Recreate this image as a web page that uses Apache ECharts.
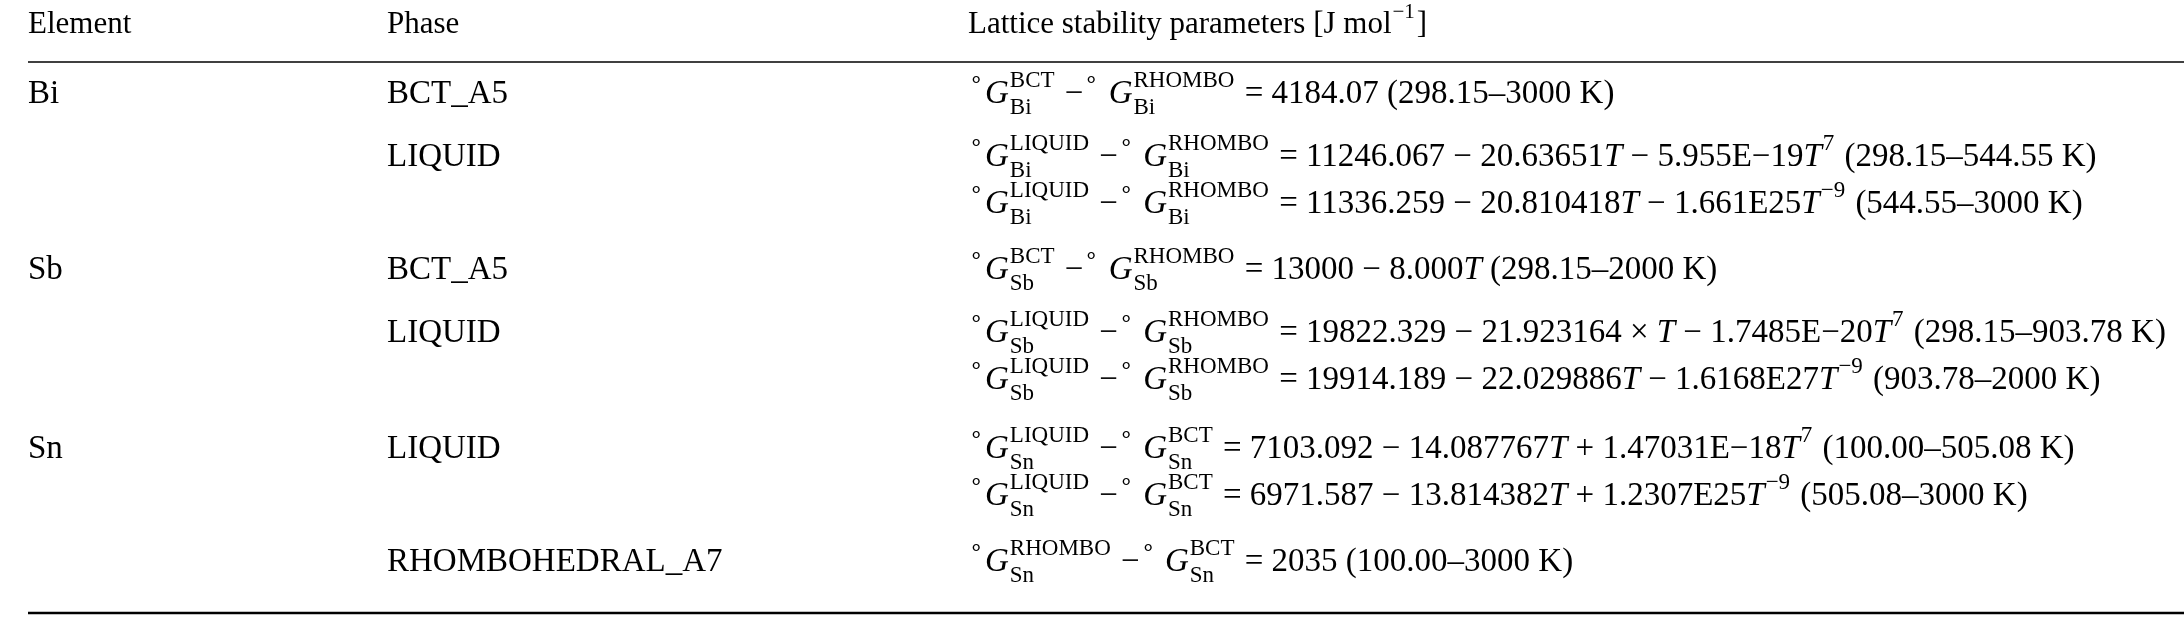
<!DOCTYPE html>
<html><head><meta charset="utf-8">
<script src="https://cdn.jsdelivr.net/npm/echarts@6/dist/echarts.min.js"></script>
<style>html,body{margin:0;padding:0;background:#fff}#container{width:2184px;height:620px}</style>
</head><body><div id="container"></div>
<script>
var dom = document.getElementById("container");
var myChart = echarts.init(dom);

var headers = ["Element", "Phase", "Lattice stability parameters [J mol^{−1}]"];
var elements = ["Bi", "", "", "Sb", "", "", "Sn", "", ""];
var phases = ["BCT_A5", "LIQUID", "", "BCT_A5", "LIQUID", "", "LIQUID", "", "RHOMBOHEDRAL_A7"];
// ^{..} superscript, _{..} subscript, *x* italic
var formulas = [
  "^{∘}*G*^{BCT}_{Bi} −^{∘} *G*^{RHOMBO}_{Bi} = 4184.07 (298.15–3000 K)",
  "^{∘}*G*^{LIQUID}_{Bi} −^{∘} *G*^{RHOMBO}_{Bi} = 11246.067 − 20.63651*T* − 5.955E−19*T*^{7} (298.15–544.55 K)",
  "^{∘}*G*^{LIQUID}_{Bi} −^{∘} *G*^{RHOMBO}_{Bi} = 11336.259 − 20.810418*T* − 1.661E25*T*^{−9} (544.55–3000 K)",
  "^{∘}*G*^{BCT}_{Sb} −^{∘} *G*^{RHOMBO}_{Sb} = 13000 − 8.000*T* (298.15–2000 K)",
  "^{∘}*G*^{LIQUID}_{Sb} −^{∘} *G*^{RHOMBO}_{Sb} = 19822.329 − 21.923164 × *T* − 1.7485E−20*T*^{7} (298.15–903.78 K)",
  "^{∘}*G*^{LIQUID}_{Sb} −^{∘} *G*^{RHOMBO}_{Sb} = 19914.189 − 22.029886*T* − 1.6168E27*T*^{−9} (903.78–2000 K)",
  "^{∘}*G*^{LIQUID}_{Sn} −^{∘} *G*^{BCT}_{Sn} = 7103.092 − 14.087767*T* + 1.47031E−18*T*^{7} (100.00–505.08 K)",
  "^{∘}*G*^{LIQUID}_{Sn} −^{∘} *G*^{BCT}_{Sn} = 6971.587 − 13.814382*T* + 1.2307E25*T*^{−9} (505.08–3000 K)",
  "^{∘}*G*^{RHOMBO}_{Sn} −^{∘} *G*^{BCT}_{Sn} = 2035 (100.00–3000 K)"
];
var rowY = [94, 157, 204, 270, 333, 380, 449, 496, 562];

var FONT = "Liberation Serif";
var SIZE = 33, SMALL = 23;
var ctx = document.createElement("canvas").getContext("2d");
function measure(t, size, italic) {
  ctx.font = (italic ? "italic " : "") + size + "px '" + FONT + "'";
  return ctx.measureText(t).width;
}

function tokenize(s) {
  var out = [], i = 0, buf = "";
  function flush() { if (buf) { out.push({ t: buf }); buf = ""; } }
  while (i < s.length) {
    var c = s[i];
    if ((c == "^" || c == "_") && s[i + 1] == "{") {
      flush();
      var j = s.indexOf("}", i);
      var tok = { script: true };
      tok[c == "^" ? "sup" : "sub"] = s.slice(i + 2, j);
      i = j + 1;
      if ((s[i] == "_" || s[i] == "^") && s[i + 1] == "{") {
        var k = s.indexOf("}", i);
        tok[s[i] == "^" ? "sup" : "sub"] = s.slice(i + 2, k);
        i = k + 1;
      }
      out.push(tok);
    } else if (c == "*") {
      flush();
      var e = s.indexOf("*", i + 1);
      out.push({ t: s.slice(i + 1, e), it: true });
      i = e + 1;
    } else { buf += c; i++; }
  }
  flush();
  return out;
}

function txt(x, y, t, size, italic) {
  return { type: "text", x: x, y: y, style: { text: t, fontFamily: FONT, fontSize: size,
    fontStyle: italic ? "italic" : "normal", fill: "#000", verticalAlign: "middle", align: "left" } };
}

function layoutLine(x, y, s, size, small) {
  var els = [];
  tokenize(s).forEach(function (tok) {
    if (tok.script) {
      var w = 0;
      if (tok.sup) { els.push(txt(x + 1, y - 13, tok.sup, small)); w = measure(tok.sup, small); }
      if (tok.sub) { els.push(txt(x + 1, y + 14, tok.sub, small)); w = Math.max(w, measure(tok.sub, small)); }
      x += w + 3;
    } else {
      els.push(txt(x, y, tok.t, size, tok.it));
      x += measure(tok.t, size, tok.it);
    }
  });
  return els;
}

var colX = [28, 387, 968];
var graphic = [];
headers.forEach(function (h, i) { graphic = graphic.concat(layoutLine(colX[i], 25, h, 31, 21)); });
for (var r = 0; r < formulas.length; r++) {
  if (elements[r]) graphic.push(txt(colX[0], rowY[r], elements[r], SIZE));
  if (phases[r]) graphic.push(txt(colX[1], rowY[r], phases[r], SIZE));
  graphic = graphic.concat(layoutLine(colX[2], rowY[r], formulas[r], SIZE, SMALL));
}
graphic.push({ type: "line", shape: { x1: 28, y1: 62, x2: 2184, y2: 62 }, style: { stroke: "#000", lineWidth: 1.5 } });
graphic.push({ type: "line", shape: { x1: 28, y1: 613, x2: 2184, y2: 613 }, style: { stroke: "#000", lineWidth: 2.5 } });

myChart.setOption({ animation: false, graphic: graphic });
</script></body></html>
